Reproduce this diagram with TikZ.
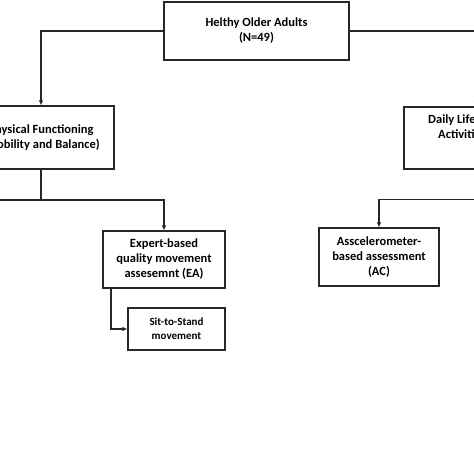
\documentclass[tikz,border=0pt]{standalone}
\usepackage{fontspec}
\setmainfont{Carlito}
\usetikzlibrary{arrows.meta}
\begin{document}
\begin{tikzpicture}[x=1pt,y=-1pt,
  box/.style={draw=black!85,line width=1.1pt,rectangle,inner sep=0pt,align=center,
    font=\fontsize{12.5}{15}\selectfont\bfseries},
  smallbox/.style={box,font=\fontsize{11}{14}\selectfont\bfseries},
  txt/.style={inner sep=0pt,align=left,font=\fontsize{12.5}{15}\selectfont\bfseries},
  conn/.style={draw=black!85,line width=1.1pt},
  arr/.style={conn,-{Latex[length=5pt,width=4.5pt]}}]
\useasboundingbox (0,0) rectangle (474,474);
\clip (0,0) rectangle (474,474);
\fill[white] (0,0) rectangle (474,474);
\node[box,minimum width=185pt,minimum height=58pt] (top) at (256.5,31) {Helthy Older Adults\\(N=49)};
\node[box,minimum width=146pt,minimum height=63pt] (phys) at (41,137.5) {Physical Functioning\\(Mobility and Balance)};
\node[box,minimum width=116pt,minimum height=62pt] (daily) at (462,138) {};
\node[txt,anchor=north west] (dailytxt) at (428,115) {Daily Life\\\hspace*{10pt}Activities};
\node[box,minimum width=122pt,minimum height=57pt] (ea) at (164,259.5) {Expert-based\\quality movement\\assesemnt (EA)};
\node[box,minimum width=120pt,minimum height=58pt] (ac) at (379,257) {Asscelerometer-\\based assessment\\(AC)};
\node[smallbox,minimum width=97pt,minimum height=42pt] (sit) at (176.5,329) {Sit-to-Stand\\movement};
\coordinate (lbranch) at (-20,200);
\draw[arr] (top.west) -| (phys.north);
\draw[arr] (top.east) -| ([xshift=14pt]daily.north);
\draw[conn] (phys.south) -- ++(0,31);
\draw[arr] (lbranch) -| (ea.north);
\draw[arr] ([xshift=14pt]daily.south) -- ++(0,30) -| (ac.north);
\draw[arr] ([xshift=-53pt]ea.south) |- (sit.west);
\end{tikzpicture}
\end{document}
